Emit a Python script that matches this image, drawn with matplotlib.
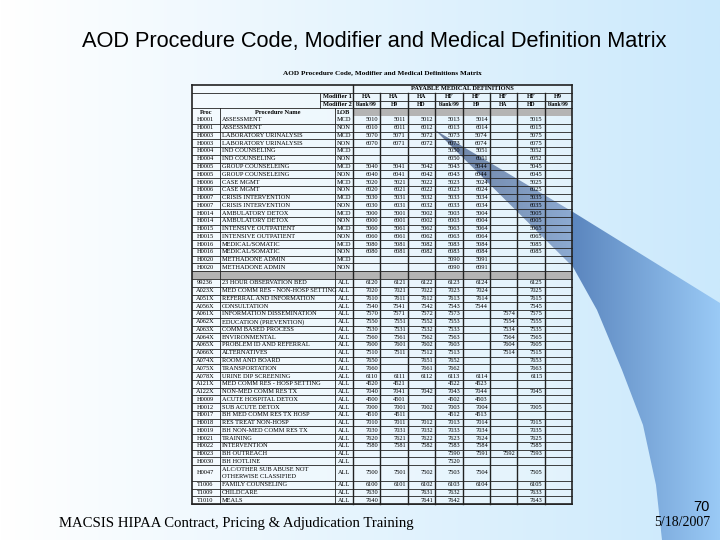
import numpy as np
import matplotlib.pyplot as plt
from matplotlib.patches import Polygon, Rectangle
from matplotlib.colors import LinearSegmentedColormap

# ---- data ----
mod1 = ['HA', 'HA', 'HA', 'HF', 'HF', 'HF', 'HF', 'H9']
mod2 = ['blank/99', 'H9', 'HD', 'blank/99', 'H9', 'HA', 'HD', 'blank/99']

top_rows = [
    ('H0001', 'ASSESSMENT', 'MCD', [5010, 5011, 5012, 5013, 5014, None, 5015, None]),
    ('H0001', 'ASSESSMENT', 'NON', [6010, 6011, 6012, 6013, 6014, None, 6015, None]),
    ('H0003', 'LABORATORY URINALYSIS', 'MCD', [5070, 5071, 5072, 5073, 5074, None, 5075, None]),
    ('H0003', 'LABORATORY URINALYSIS', 'NON', [6070, 6071, 6072, 6073, 6074, None, 6075, None]),
    ('H0004', 'IND COUNSELING', 'MCD', [None, None, None, 5050, 5051, None, 5052, None]),
    ('H0004', 'IND COUNSELING', 'NON', [None, None, None, 6050, 6051, None, 6052, None]),
    ('H0005', 'GROUP COUNSELEING', 'MCD', [5040, 5041, 5042, 5043, 5044, None, 5045, None]),
    ('H0005', 'GROUP COUNSELEING', 'NON', [6040, 6041, 6042, 6043, 6044, None, 6045, None]),
    ('H0006', 'CASE MGMT', 'MCD', [5020, 5021, 5022, 5023, 5024, None, 5025, None]),
    ('H0006', 'CASE MGMT', 'NON', [6020, 6021, 6022, 6023, 6024, None, 6025, None]),
    ('H0007', 'CRISIS INTERVENTION', 'MCD', [5030, 5031, 5032, 5033, 5034, None, 5035, None]),
    ('H0007', 'CRISIS INTERVENTION', 'NON', [6030, 6031, 6032, 6033, 6034, None, 6035, None]),
    ('H0014', 'AMBULATORY DETOX', 'MCD', [5000, 5001, 5002, 5003, 5004, None, 5005, None]),
    ('H0014', 'AMBULATORY DETOX', 'NON', [6000, 6001, 6002, 6003, 6004, None, 6005, None]),
    ('H0015', 'INTENSIVE OUTPATIENT', 'MCD', [5060, 5061, 5062, 5063, 5064, None, 5065, None]),
    ('H0015', 'INTENSIVE OUTPATIENT', 'NON', [6060, 6061, 6062, 6063, 6064, None, 6065, None]),
    ('H0016', 'MEDICAL/SOMATIC', 'MCD', [5080, 5081, 5082, 5083, 5084, None, 5085, None]),
    ('H0016', 'MEDICAL/SOMATIC', 'NON', [6080, 6081, 6082, 6083, 6084, None, 6085, None]),
    ('H0020', 'METHADONE ADMIN', 'MCD', [None, None, None, 5090, 5091, None, None, None]),
    ('H0020', 'METHADONE ADMIN', 'NON', [None, None, None, 6090, 6091, None, None, None]),
]

all_rows = [
    ('99236', '23 HOUR OBSERVATION BED', [6120, 6121, 6122, 6123, 6124, None, 6125]),
    ('A023X', 'MED COMM RES - NON-HOSP SETTING', [7020, 7021, 7022, 7023, 7024, None, 7025]),
    ('A051X', 'REFERRAL AND INFORMATION', [7610, 7611, 7612, 7613, 7614, None, 7615]),
    ('A056X', 'CONSULTATION', [7540, 7541, 7542, 7543, 7544, None, 7545]),
    ('A061X', 'INFORMATION DISSEMINATION', [7570, 7571, 7572, 7573, None, 7574, 7575]),
    ('A062X', 'EDUCATION (PREVENTION)', [7550, 7551, 7552, 7553, None, 7554, 7555]),
    ('A063X', 'COMM BASED PROCESS', [7530, 7531, 7532, 7533, None, 7534, 7535]),
    ('A064X', 'ENVIRONMENTAL', [7560, 7561, 7562, 7563, None, 7564, 7565]),
    ('A065X', 'PROBLEM ID AND REFERRAL', [7600, 7601, 7602, 7603, None, 7604, 7605]),
    ('A066X', 'ALTERNATIVES', [7510, 7511, 7512, 7513, None, 7514, 7515]),
    ('A074X', 'ROOM AND BOARD', [7650, None, 7651, 7652, None, None, 7653]),
    ('A075X', 'TRANSPORTATION', [7660, None, 7661, 7662, None, None, 7663]),
    ('A078X', 'URINE DIP SCREENING', [6110, 6111, 6112, 6113, 6114, None, 6115]),
    ('A121X', 'MED COMM RES - HOSP SETTING', [4520, 4521, None, 4522, 4523, None, None]),
    ('A122X', 'NON-MED COMM RES TX', [7040, 7041, 7042, 7043, 7044, None, 7045]),
    ('H0009', 'ACUTE HOSPITAL DETOX', [4500, 4501, None, 4502, 4503, None, None]),
    ('H0012', 'SUB ACUTE DETOX', [7000, 7001, 7002, 7003, 7004, None, 7005]),
    ('H0017', 'BH MED COMM RES TX HOSP', [4510, 4511, None, 4512, 4513, None, None]),
    ('H0018', 'RES TREAT NON-HOSP', [7010, 7011, 7012, 7013, 7014, None, 7015]),
    ('H0019', 'BH NON-MED COMM RES TX', [7030, 7031, 7032, 7033, 7034, None, 7035]),
    ('H0021', 'TRAINING', [7620, 7621, 7622, 7623, 7624, None, 7625]),
    ('H0022', 'INTERVENTION', [7580, 7581, 7582, 7583, 7584, None, 7585]),
    ('H0023', 'BH OUTREACH', [None, None, None, 7590, 7591, 7592, 7593]),
    ('H0030', 'BH HOTLINE', [None, None, None, 7520, None, None, None]),
    ('H0047', 'ALC/OTHER SUB ABUSE NOT\nOTHERWISE CLASSIFIED', [7500, 7501, 7502, 7503, 7504, None, 7505]),
    ('T1006', 'FAMILY COUNSELING', [6100, 6101, 6102, 6103, 6104, None, 6105]),
    ('T1009', 'CHILDCARE', [7630, None, 7631, 7632, None, None, 7633]),
    ('T1010', 'MEALS', [7640, None, 7641, 7642, None, None, 7643]),
]

fig = plt.figure(figsize=(7.2, 5.4), dpi=100)
ax = fig.add_axes([0, 0, 1, 1])
ax.set_xlim(0, 720)
ax.set_ylim(540, 0)
ax.axis('off')

# background gradient
grad = np.linspace(0, 1, 256)[None, :]
cmap = LinearSegmentedColormap.from_list('bg', ['#ffffff', '#cbe9fc'])
ax.imshow(grad, extent=[0, 720, 540, 0], aspect='auto', cmap=cmap, zorder=0)

# swoosh: dark blue on the left fading to light blue on the right
swoosh = Polygon([(435, 130), (573, 212), (720, 303), (720, 540), (662, 540),
                  (656, 485), (643, 425), (622, 370), (597, 310), (573, 267)],
                 closed=True, fc='none', ec='none')
ax.add_patch(swoosh)
scmap = LinearSegmentedColormap.from_list('sw', ['#2c4a7a', '#5d88c0', '#9acaf6'])
im = ax.imshow(grad, extent=[435, 720, 540, 130], aspect='auto', cmap=scmap, zorder=1)
im.set_clip_path(swoosh)

ax.text(374, 42, 'AOD Procedure Code, Modifier and Medical Definition Matrix',
        ha='center', va='center', fontsize=15.7, family='Liberation Sans')
ax.text(59, 523, 'MACSIS HIPAA Contract, Pricing & Adjudication Training',
        ha='left', va='center', fontsize=10.6, family='Liberation Serif')
ax.text(710, 507, '70', ha='right', va='center', fontsize=10.5, family='Liberation Sans', zorder=3)
ax.text(710, 523, '5/18/2007', ha='right', va='center', fontsize=10, family='Liberation Serif', zorder=3)

# table geometry
serif = 'Liberation Serif'
fs = 4.6
x0, xn, xl, xd = 192, 220, 335, 353
cw = (572 - xd) / 8
cols = [xd + i * cw for i in range(9)]
ytop = 85
rh = 7.76
ax.text(382, 73, 'AOD Procedure Code, Modifier and Medical Definitions Matrix',
        ha='center', va='center', fontsize=5.2, weight='bold', family=serif)

cell = dict(fc='#ffffff', alpha=0.3, ec='none', zorder=2)
lw = 0.6

def hline(y, xa=x0, xb=572, w=lw):
    ax.plot([xa, xb], [y, y], color='#222222', lw=w, zorder=4)

def vline(x, ya, yb, w=lw):
    ax.plot([x, x], [ya, yb], color='#222222', lw=w, zorder=4)

def ytxt(r, n=1):
    return ytop + (r + n / 2) * rh

# header rows
ax.add_patch(Rectangle((x0, ytop), 572 - x0, 4 * rh, **cell))
ax.text((xd + 572) / 2, ytxt(0), 'PAYABLE MEDICAL DEFINITIONS', ha='center', va='center',
        fontsize=fs, weight='bold', family=serif, zorder=5)
ax.text(352, ytxt(1), 'Modifier 1', ha='right', va='center', fontsize=fs, weight='bold', family=serif, zorder=5)
ax.text(352, ytxt(2), 'Modifier 2', ha='right', va='center', fontsize=fs, weight='bold', family=serif, zorder=5)
for i in range(8):
    cx = (cols[i] + cols[i + 1]) / 2
    ax.text(cx, ytxt(1), mod1[i], ha='center', va='center', fontsize=fs, weight='bold', family=serif, zorder=5)
    ax.text(cx, ytxt(2), mod2[i], ha='center', va='center', fontsize=fs - 0.5, weight='bold', family=serif, zorder=5)
ax.add_patch(Rectangle((xd, ytop + 3 * rh), 572 - xd, rh, fc='#b4b4b4', ec='none', zorder=3))
ax.text((x0 + xn) / 2, ytxt(3), 'Proc', ha='center', va='center', fontsize=fs, weight='bold', family=serif, zorder=5)
ax.text((xn + xl) / 2, ytxt(3), 'Procedure Name', ha='center', va='center', fontsize=fs, weight='bold', family=serif, zorder=5)
ax.text((xl + xd) / 2, ytxt(3), 'LOB', ha='center', va='center', fontsize=fs, weight='bold', family=serif, zorder=5)
hline(ytop + rh)
hline(ytop + 2 * rh, 320)
hline(ytop + 3 * rh)
vline(320, ytop + rh, ytop + 3 * rh)
for c in cols[:-1]:
    vline(c, ytop + (0 if c == xd else rh), ytop + 3 * rh)

def draw_row(r, n, proc, name, lob, vals):
    yb = ytop + (r + n) * rh
    ax.add_patch(Rectangle((x0, ytop + r * rh), 572 - x0, n * rh, **cell))
    ax.text(x0 + 13, ytxt(r, n), proc, ha='center', va='center', fontsize=fs, family=serif, zorder=5)
    ax.text(xn + 2, ytxt(r, n), name, ha='left', va='center', fontsize=fs, family=serif,
            linespacing=1.5, zorder=5)
    ax.text((xl + xd) / 2, ytxt(r, n), lob, ha='center', va='center', fontsize=fs, family=serif, zorder=5)
    for i, v in enumerate(vals):
        if v is not None:
            ax.text(cols[i + 1] - 2, ytxt(r, n), str(v), ha='right', va='center',
                    fontsize=fs, family=serif, zorder=5)
    hline(yb)

r = 4
for proc, name, lob, vals in top_rows:
    draw_row(r, 1, proc, name, lob, vals)
    r += 1
ax.add_patch(Rectangle((x0, ytop + r * rh), 572 - x0, rh, fc='#b4b4b4', ec='none', zorder=3))
hline(ytop + (r + 1) * rh)
r += 1
for proc, name, vals in all_rows:
    n = 2 if '\n' in name else 1
    draw_row(r, n, proc, name, 'ALL', vals + [None])
    r += n
ybot = ytop + r * rh

for c in [xn, xl]:
    vline(c, ytop + 3 * rh, ybot)
for c in cols[1:-1]:
    vline(c, ytop + rh, ybot, w=1.0)
vline(xd, ytop, ybot, w=1.0)
vline(x0, ytop, ybot, w=1.2)
vline(572, ytop, ybot, w=1.2)
hline(ytop, w=1.2)
hline(ybot, w=1.2)

fig.savefig('out.png', dpi=100)
